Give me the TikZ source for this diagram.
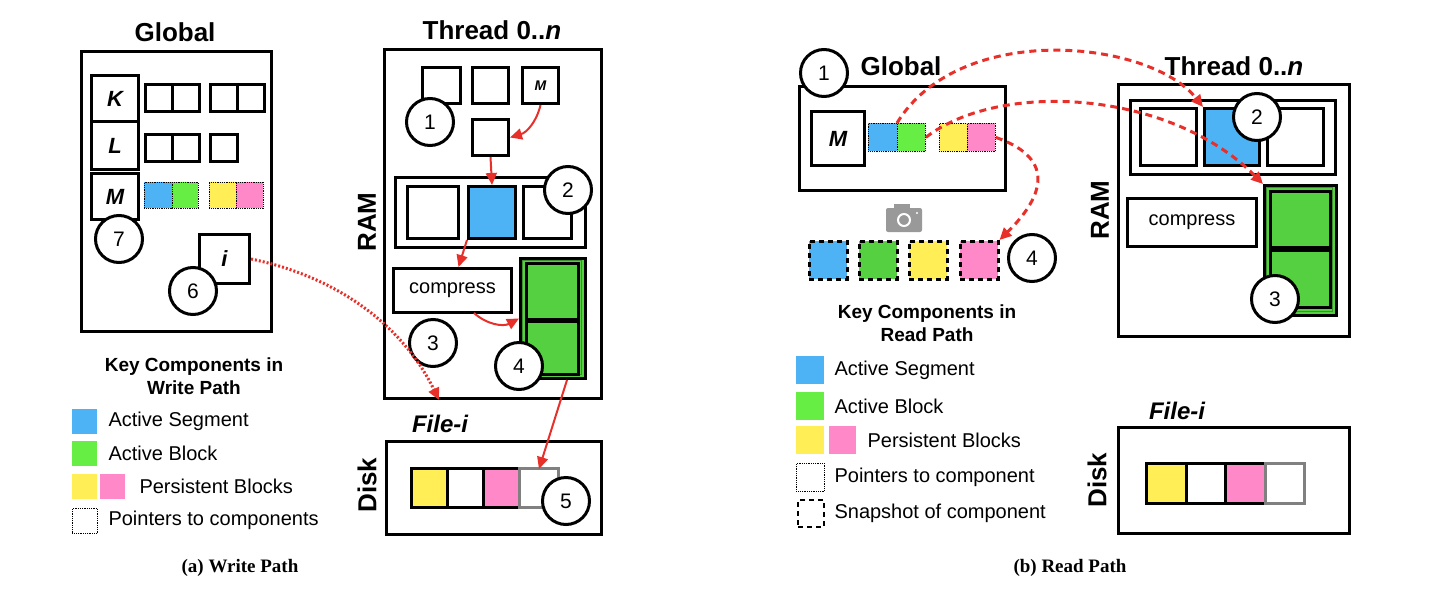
\documentclass[tikz,border=0pt]{standalone}
\usepackage{fontspec}
\setmainfont{Liberation Sans}
\newfontfamily\capfont{Liberation Serif}
\usetikzlibrary{arrows.meta}
\definecolor{sblue}{HTML}{4DB3F5}
\definecolor{sgreen}{HTML}{55D040}
\definecolor{lgreen}{HTML}{66EE44}
\definecolor{syellow}{HTML}{FFEE55}
\definecolor{spink}{HTML}{FF88C8}
\definecolor{arr}{HTML}{E8302A}
\tikzset{
  blk/.style={draw, line width=3pt, inner sep=0pt, anchor=north west},
  ptr/.style={draw, densely dotted, line width=0.8pt, inner sep=0pt, anchor=north west},
  snap/.style={draw, dashed, dash pattern=on 5pt off 4pt, line width=2.5pt, inner sep=0pt, anchor=north west},
  sw/.style={inner sep=0pt, anchor=north west, minimum width=28, minimum height=28},
  num/.style={circle, draw, line width=3pt, fill=white, minimum size=47, inner sep=0pt, font=\fontsize{21}{21}\selectfont},
  ttl/.style={font=\bfseries\fontsize{26}{26}\selectfont},
  leg/.style={anchor=west, font=\fontsize{20}{20}\selectfont},
  side/.style={rotate=90, font=\bfseries\fontsize{26}{26}\selectfont},
  rarr/.style={-{Triangle[length=12pt,width=11pt]}, arr, line width=2pt},
  darr/.style={rarr, dash pattern=on 7pt off 5pt, line width=3pt},
  oarr/.style={rarr, dotted, line width=3pt},
}
% \bx{name}{x}{y}{w}{h}{style}{text}
\newcommand{\bx}[7]{\node[#6, minimum width=#4, minimum height=#5] (#1) at (#2,#3) {#7};}
\begin{document}
\begin{tikzpicture}[x=1pt,y=-1pt]
\useasboundingbox (0,0) rectangle (1441,600);

%%%%% (a) Write Path
\node[ttl] (tgl) at (175,32) {Global};
\bx{gl}{80}{50}{190}{280}{blk}{}
\bx{k}{90}{74}{47}{46}{blk}{\bfseries\itshape\fontsize{22}{22}\selectfont K}
\bx{l}{90}{120}{47}{48}{blk}{\bfseries\itshape\fontsize{22}{22}\selectfont L}
\bx{m}{90}{172}{47}{46}{blk}{\bfseries\itshape\fontsize{22}{22}\selectfont M}
\bx{r1a}{144}{83}{27}{27}{blk}{}
\bx{r1b}{171}{83}{27}{27}{blk}{}
\bx{r1c}{209}{83}{27}{27}{blk}{}
\bx{r1d}{236}{83}{27}{27}{blk}{}
\bx{r2a}{144}{133}{27}{27}{blk}{}
\bx{r2b}{171}{133}{27}{27}{blk}{}
\bx{r2c}{209}{133}{27}{27}{blk}{}
\bx{r3a}{144}{182}{28}{26}{ptr,fill=sblue}{}
\bx{r3b}{172}{182}{26}{26}{ptr,fill=lgreen}{}
\bx{r3c}{209}{182}{27}{26}{ptr,fill=syellow}{}
\bx{r3d}{236}{182}{27}{26}{ptr,fill=spink}{}
\node[num] (c7) at (119,239) {7};
\bx{fi}{198}{233}{50}{49}{blk}{\bfseries\itshape\fontsize{22}{22}\selectfont i}
\node[num] (c6) at (193,291) {6};

\node[ttl] (tth) at (492,30) {Thread 0..\textit{n}};
\bx{th}{383}{48}{217}{349}{blk}{}
\node[side] (ram) at (367,222) {RAM};
\bx{t1}{421}{66}{38}{36}{blk}{}
\bx{t2}{471}{66}{36}{36}{blk}{}
\bx{tm}{521}{66}{36}{36}{blk}{\bfseries\itshape\fontsize{14}{14}\selectfont M}
\node[num] (c1) at (430,122) {1};
\bx{t4}{471}{118}{36}{36}{blk}{}
\bx{sg}{394}{176}{190}{70}{blk}{}
\bx{s1}{406}{185}{51}{52}{blk}{}
\bx{s2}{467}{185}{47}{52}{blk,fill=sblue}{}
\bx{s3}{522}{185}{48}{52}{blk}{}
\node[num] (c2) at (568,190) {2};
\bx{cp}{392}{267}{118}{44}{blk}{\fontsize{20}{20}\selectfont compress}
\bx{gb}{519}{257}{65}{120}{blk,fill=sgreen}{}
\draw[sgreen!70!black, line width=1pt] (522,260) rectangle (581,374);
\bx{g1}{525}{262}{52}{56}{blk,fill=sgreen}{}
\bx{g2}{525}{320}{52}{53}{blk,fill=sgreen}{}
\node[num] (c3) at (433,343) {3};
\node[num] (c4) at (519,366) {4};

\node[font=\bfseries\itshape\fontsize{24}{24}\selectfont] (fil) at (440,424) {File-\textit{i}};
\bx{dk}{385}{440}{215}{93}{blk}{}
\node[side] (dsk) at (367,485) {Disk};
\bx{d1}{410}{467}{36}{39}{blk,fill=syellow}{}
\bx{d2}{446}{467}{36}{39}{blk}{}
\bx{d3}{482}{467}{36}{39}{blk,fill=spink}{}
\bx{d4}{518}{467}{39}{39}{blk,draw=gray}{}
\node[num] (c5) at (566,501) {5};

\draw[rarr] (tm.south) to[bend left=30] (t4.east);
\draw[rarr] (t4.south) -- (s2.north);
\draw[rarr] (s2.south west) -- ([xshift=6pt]cp.north);
\coordinate (cpo) at (474,313);
\draw[rarr] (cpo) to[bend right=35] (gb.west);
\draw[rarr] ([xshift=-20pt]gb.south east) -- ([yshift=-2pt]d4.north);
\coordinate (wend) at (439,400);
\draw[oarr] (fi.east) .. controls (330,275) and (400,320) .. (wend);

\node[font=\bfseries\fontsize{19}{23}\selectfont, align=center] (lg1) at (194,376) {Key Components in\\Write Path};
\bx{la}{72}{409}{25}{25}{sw,fill=sblue}{}
\node[leg] at (105,421) {Active Segment};
\bx{lb}{72}{441}{25}{25}{sw,fill=lgreen}{}
\node[leg] at (105,453) {Active Block};
\bx{lc}{72}{474}{25}{25}{sw,fill=syellow}{}
\bx{ld}{100}{474}{25}{25}{sw,fill=spink}{}
\node[leg] at (136,486) {Persistent Blocks};
\bx{le}{72}{508}{25}{25}{ptr}{}
\node[leg] at (105,520) {Pointers to components};
\node[font=\capfont\bfseries\fontsize{19}{19}\selectfont] (capa) at (240,568) {(a) Write Path};

%%%%% (b) Read Path
\node[ttl] (tgr) at (901,66) {Global};
\bx{gr}{798}{85}{206}{104}{blk}{}
\node[num] (q1) at (824,73) {1};
\bx{rm}{810}{110}{53}{54}{blk}{\bfseries\itshape\fontsize{22}{22}\selectfont M}
\bx{p1}{868}{123}{29}{28}{ptr,fill=sblue}{}
\bx{p2}{897}{123}{28}{28}{ptr,fill=lgreen}{}
\bx{p3}{939}{123}{28}{28}{ptr,fill=syellow}{}
\bx{p4}{967}{123}{28}{28}{ptr,fill=spink}{}

% camera
\fill[gray!80, rounded corners=2pt] (886,208) rectangle (922,232);
\fill[gray!80] (894,204) rectangle (910,209);
\draw[white, line width=2pt] (904,220) circle (6);
\fill[white] (917,213) circle (1.2);

\bx{n1}{808}{240}{38}{38}{snap,fill=sblue}{}
\bx{n2}{858}{240}{38}{38}{snap,fill=sgreen}{}
\bx{n3}{908}{240}{38}{38}{snap,fill=syellow}{}
\bx{n4}{959}{240}{38}{38}{snap,fill=spink}{}
\node[num] (q4) at (1032,258) {4};

\node[ttl] (tth2) at (1234,66) {Thread 0..\textit{n}};
\bx{th2}{1117}{83}{231}{252}{blk}{}
\node[side] (ram2) at (1100,210) {RAM};
\bx{sg2}{1129}{99}{205}{74}{blk}{}
\bx{u1}{1139}{107}{56}{57}{blk}{}
\bx{u2}{1203}{107}{55}{57}{blk,fill=sblue}{}
\bx{u3}{1266}{107}{56}{57}{blk}{}
\node[num] (q2) at (1257,117) {2};
\bx{cp2}{1126}{197}{129}{48}{blk}{\fontsize{20}{20}\selectfont compress}
\bx{gb2}{1263}{184}{72}{130}{blk,fill=sgreen}{}
\draw[sgreen!70!black, line width=1pt] (1266,187) rectangle (1332,311);
\bx{h1}{1269}{190}{60}{56}{blk,fill=sgreen}{}
\bx{h2}{1269}{249}{60}{57}{blk,fill=sgreen}{}
\node[num] (q3) at (1275,299) {3};

\node[font=\bfseries\itshape\fontsize{24}{24}\selectfont] (fil2) at (1177,411) {File-\textit{i}};
\bx{dk2}{1117}{426}{231}{106}{blk}{}
\node[side] (dsk2) at (1097,480) {Disk};
\bx{e1}{1145}{462}{40}{40}{blk,fill=syellow}{}
\bx{e2}{1185}{462}{39}{40}{blk}{}
\bx{e3}{1224}{462}{40}{40}{blk,fill=spink}{}
\bx{e4}{1264}{462}{39}{40}{blk,draw=gray}{}

\draw[darr] (p2.north west) .. controls (960,20) and (1150,40) .. (u2.north west);
\draw[darr] (p2.east) .. controls (1000,80) and (1170,90) .. (gb2.north west);
\draw[darr] (p4.east) .. controls (1060,160) and (1040,200) .. (n4.north east);

\node[font=\bfseries\fontsize{19}{23}\selectfont, align=center] (lg2) at (927,323) {Key Components in\\Read Path};
\bx{ma}{796}{356}{28}{28}{sw,fill=sblue}{}
\node[leg] at (831,370) {Active Segment};
\bx{mb}{796}{392}{28}{28}{sw,fill=lgreen}{}
\node[leg] at (831,406) {Active Block};
\bx{mc}{796}{426}{28}{28}{sw,fill=syellow}{}
\bx{md}{829}{426}{27}{28}{sw,fill=spink}{}
\node[leg] at (864,440) {Persistent Blocks};
\bx{me}{796}{463}{28}{28}{ptr}{}
\node[leg] at (831,477) {Pointers to component};
\bx{mf}{797}{499}{26}{27}{snap,line width=2pt}{}
\node[leg] at (831,513) {Snapshot of component};
\node[font=\capfont\bfseries\fontsize{19}{19}\selectfont] (capb) at (1070,568) {(b) Read Path};
\end{tikzpicture}
\end{document}
